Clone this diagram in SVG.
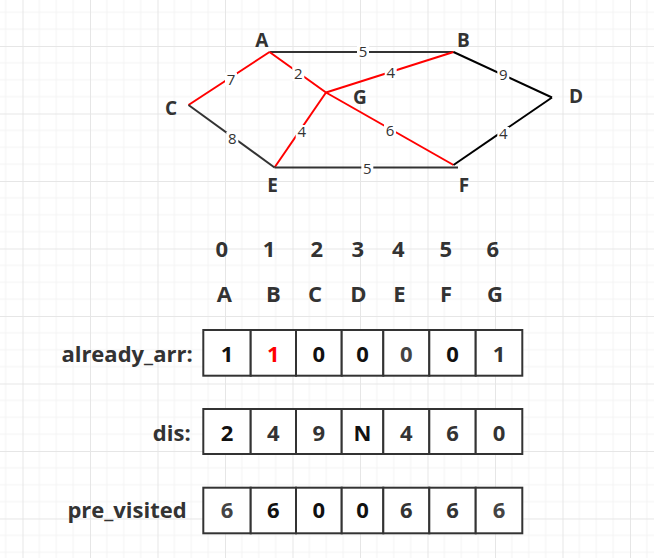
<svg xmlns="http://www.w3.org/2000/svg" width="654" height="558" viewBox="0 0 654 558">
<defs>
<pattern id="grid" x="22.5" y="46" width="67.5" height="67.5" patternUnits="userSpaceOnUse">
<path d="M16.875 0V67.5M33.75 0V67.5M50.625 0V67.5M0 16.875H67.5M0 33.75H67.5M0 50.625H67.5" stroke="#f3f3f3" stroke-width="1" fill="none"/>
<path d="M0.5 0V67.5M0 0.5H67.5" stroke="#e6e6e6" stroke-width="1" fill="none"/>
</pattern>
<style>
.edge{stroke-width:2;fill:none}
.dk{stroke:#333}
.bk{stroke:#000}
.rd{stroke:#ff0000}
.el{font-family:"Open Sans","Noto Sans",sans-serif;font-size:15px;fill:#333;text-anchor:middle}
.lb{fill:#fff}
.nl{font-family:"Open Sans","Noto Sans",sans-serif;font-size:19px;font-weight:bold;fill:#333;text-anchor:middle}
.hd{font-family:"Open Sans","Noto Sans",sans-serif;font-size:22px;font-weight:bold;fill:#333;text-anchor:middle}
.rl{font-family:"Open Sans","Noto Sans",sans-serif;font-size:22px;font-weight:bold;fill:#333;text-anchor:end}
.cell{fill:#fff;stroke:#333;stroke-width:2}
.v{font-family:"Open Sans","Noto Sans",sans-serif;font-size:22px;font-weight:bold;fill:#111;text-anchor:middle}
</style>
</defs>
<rect width="654" height="558" fill="#fff"/>
<rect width="654" height="558" fill="url(#grid)"/>

<g id="connectors">
<line class="edge dk" x1="269.5" y1="52" x2="453.5" y2="52"/>
<line class="edge rd" x1="269.5" y1="52" x2="188.5" y2="105"/>
<line class="edge rd" x1="269.5" y1="52" x2="326" y2="92.5"/>
<line class="edge rd" x1="326" y1="92.5" x2="453.5" y2="52"/>
<line class="edge rd" x1="326" y1="92.5" x2="274.5" y2="167.5"/>
<line class="edge rd" x1="326" y1="92.5" x2="453.5" y2="165"/>
<line class="edge dk" x1="188.5" y1="105" x2="274.5" y2="167.5"/>
<line class="edge dk" x1="274.5" y1="167.5" x2="458" y2="167.5"/>
<line class="edge bk" x1="453.5" y1="52" x2="552" y2="97.5"/>
<line class="edge bk" x1="552" y1="97.5" x2="453.5" y2="165"/>
<rect class="lb" x="357" y="45" width="12" height="14"/><text class="el" x="363" y="57">5</text>
<rect class="lb" x="225" y="72.5" width="12" height="14"/><text class="el" x="231" y="84.5">7</text>
<rect class="lb" x="292.3" y="67" width="12" height="14"/><text class="el" x="298.3" y="78.8">2</text>
<rect class="lb" x="384.7" y="66" width="12" height="14"/><text class="el" x="390.7" y="78.2">4</text>
<rect class="lb" x="295.7" y="125" width="12" height="14"/><text class="el" x="301.7" y="137.2">4</text>
<rect class="lb" x="384" y="123.5" width="12" height="14"/><text class="el" x="390" y="135.5">6</text>
<rect class="lb" x="226.3" y="132" width="12" height="14"/><text class="el" x="232.3" y="143.8">8</text>
<rect class="lb" x="361.3" y="162" width="12" height="13"/><text class="el" x="367.3" y="173.8">5</text>
<rect class="lb" x="497.3" y="68" width="12" height="14"/><text class="el" x="503.3" y="79.8">9</text>
<rect class="lb" x="497.3" y="127" width="12" height="14"/><text class="el" x="503.3" y="138.8">4</text>
</g>

<g id="node-A"><text class="nl" x="261.7" y="47">A</text></g>
<g id="node-B"><text class="nl" x="463.3" y="46.5">B</text></g>
<g id="node-C"><text class="nl" x="171" y="115">C</text></g>
<g id="node-D"><text class="nl" x="576" y="103">D</text></g>
<g id="node-E"><text class="nl" x="272.7" y="192">E</text></g>
<g id="node-F"><text class="nl" x="464" y="192">F</text></g>
<g id="node-G"><text class="nl" x="360" y="103.5">G</text></g>

<g id="index-row">
<text class="hd" x="221.7" y="257.3">0</text>
<text class="hd" x="269" y="257.3">1</text>
<text class="hd" x="316.7" y="257.3">2</text>
<text class="hd" x="357.7" y="257.3">3</text>
<text class="hd" x="398.3" y="257.3">4</text>
<text class="hd" x="445.7" y="257.3">5</text>
<text class="hd" x="492.7" y="257.3">6</text>
</g>
<g id="letter-row">
<text class="hd" x="224.3" y="302">A</text>
<text class="hd" x="273.3" y="302">B</text>
<text class="hd" x="315" y="302">C</text>
<text class="hd" x="358.3" y="302">D</text>
<text class="hd" x="399.3" y="302">E</text>
<text class="hd" x="446" y="302">F</text>
<text class="hd" x="495" y="302">G</text>
</g>

<g id="already_arr">
<text class="rl" x="192.7" y="362">already_arr:</text>
<rect class="cell" x="203.3" y="330" width="47.4" height="45.7"/>
<rect class="cell" x="250.7" y="330" width="45.3" height="45.7"/>
<rect class="cell" x="296" y="330" width="45.7" height="45.7"/>
<rect class="cell" x="341.7" y="330" width="41.6" height="45.7"/>
<rect class="cell" x="383.3" y="330" width="46" height="45.7"/>
<rect class="cell" x="429.3" y="330" width="46.4" height="45.7"/>
<rect class="cell" x="475.7" y="330" width="46.6" height="45.7"/>
<text class="v" x="227" y="362.2">1</text>
<text class="v" x="273.4" y="362.2" style="fill:#ff0000">1</text>
<text class="v" x="318.9" y="362.2">0</text>
<text class="v" x="362.5" y="362.2">0</text>
<text class="v" x="406.3" y="362.2" style="fill:#444">0</text>
<text class="v" x="452.5" y="362.2">0</text>
<text class="v" x="499" y="362.2" style="fill:#333">1</text>
</g>

<g id="dis">
<text class="rl" x="190.7" y="441">dis:</text>
<rect class="cell" x="203.3" y="409" width="47.4" height="45"/>
<rect class="cell" x="250.7" y="409" width="45.3" height="45"/>
<rect class="cell" x="296" y="409" width="45.7" height="45"/>
<rect class="cell" x="341.7" y="409" width="41.6" height="45"/>
<rect class="cell" x="383.3" y="409" width="46" height="45"/>
<rect class="cell" x="429.3" y="409" width="46.4" height="45"/>
<rect class="cell" x="475.7" y="409" width="46.6" height="45"/>
<text class="v" x="227" y="441.3">2</text>
<text class="v" x="273.4" y="441.3" style="fill:#333">4</text>
<text class="v" x="318.9" y="441.3" style="fill:#333">9</text>
<text class="v" x="362.5" y="441.3">N</text>
<text class="v" x="406.3" y="441.3" style="fill:#333">4</text>
<text class="v" x="452.5" y="441.3" style="fill:#333">6</text>
<text class="v" x="499" y="441.3" style="fill:#333">0</text>
</g>

<g id="pre_visited">
<text class="rl" x="186.7" y="517.5">pre_visited</text>
<rect class="cell" x="203.3" y="487.7" width="47.4" height="45.6"/>
<rect class="cell" x="250.7" y="487.7" width="45.3" height="45.6"/>
<rect class="cell" x="296" y="487.7" width="45.7" height="45.6"/>
<rect class="cell" x="341.7" y="487.7" width="41.6" height="45.6"/>
<rect class="cell" x="383.3" y="487.7" width="46" height="45.6"/>
<rect class="cell" x="429.3" y="487.7" width="46.4" height="45.6"/>
<rect class="cell" x="475.7" y="487.7" width="46.6" height="45.6"/>
<text class="v" x="227" y="518" style="fill:#444">6</text>
<text class="v" x="273.4" y="518">6</text>
<text class="v" x="318.9" y="518">0</text>
<text class="v" x="362.5" y="518">0</text>
<text class="v" x="406.3" y="518" style="fill:#333">6</text>
<text class="v" x="452.5" y="518" style="fill:#333">6</text>
<text class="v" x="499" y="518" style="fill:#444">6</text>
</g>
</svg>
